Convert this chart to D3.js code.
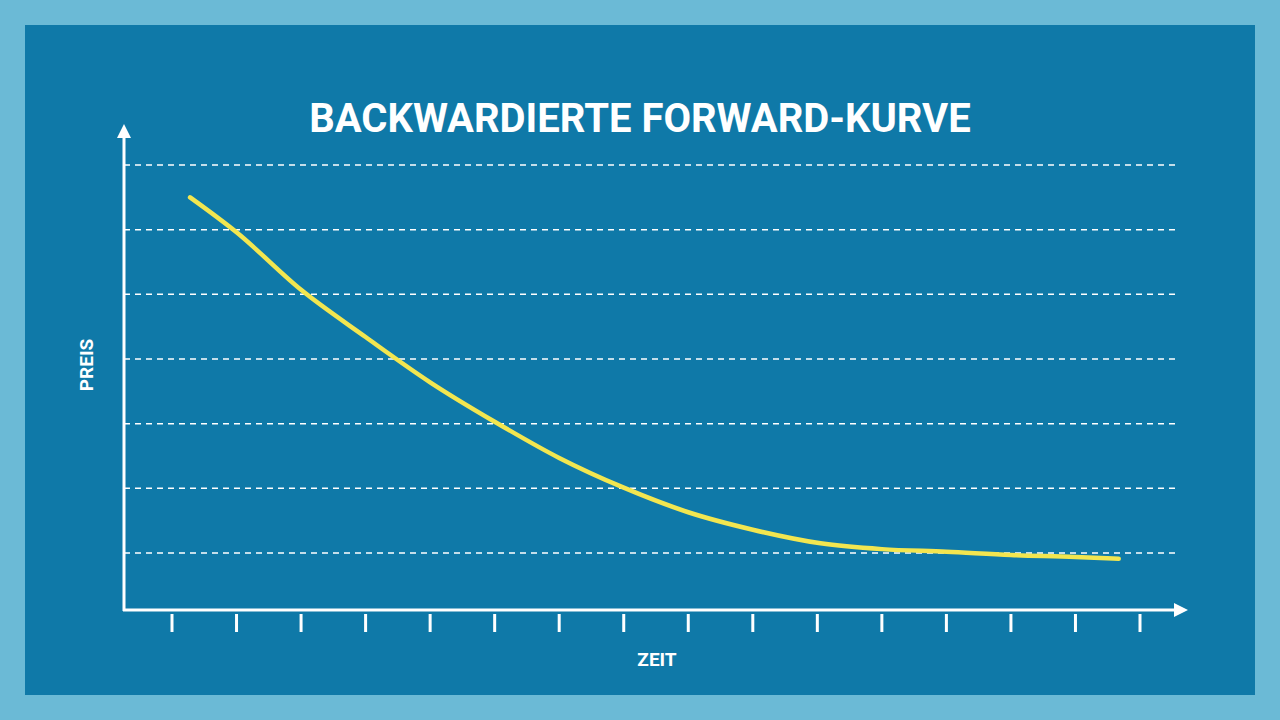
<!DOCTYPE html>
<html><head><meta charset="utf-8">
<script src="https://cdn.jsdelivr.net/npm/d3@7/dist/d3.min.js"></script>
<style>body{margin:0;background:#6bbad6}</style></head>
<body><svg id="c" width="1280" height="720"></svg>
<script>
const title = "BACKWARDIERTE FORWARD-KURVE";
const xLabel = "ZEIT", yLabel = "PREIS";
const tickIndex = d3.range(16);
const gridLevels = [1,2,3,4,5,6,7];
const curveT = [0.28,1,2,3,4,5,6,7,8,9,10.05,11,12,13,14,14.67];
const curveV = [6.50,5.96,5.07,4.34,3.64,3.03,2.47,2.01,1.63,1.36,1.15,1.06,1.02,0.97,0.94,0.91];

const svg = d3.select("#c");
svg.append("rect").attr("width",1280).attr("height",720).attr("fill","#6bbad6");
svg.append("rect").attr("x",25).attr("y",25).attr("width",1230).attr("height",670).attr("fill","#0f79a8");
const x = d3.scaleLinear().domain([0,15]).range([172,1140]);
const y = d3.scaleLinear().domain([1,7]).range([553,165]);
const white="#ffffff";
svg.append("text").attr("x",640).attr("y",132).attr("text-anchor","middle").attr("fill",white)
 .attr("font-family","Roboto, 'Open Sans', sans-serif").attr("font-weight",700).attr("font-size",40).text(title);
svg.selectAll(".g").data(gridLevels).join("line").attr("x1",124).attr("x2",1178)
 .attr("y1",d=>y(d)).attr("y2",d=>y(d)).attr("stroke",white).attr("stroke-width",1.5).attr("stroke-dasharray","6,5");
// axes
svg.append("line").attr("x1",124).attr("x2",124).attr("y1",611).attr("y2",134).attr("stroke",white).attr("stroke-width",3);
svg.append("path").attr("d","M117,138 L124,124 L131,138 Z").attr("fill",white);
svg.append("line").attr("x1",123).attr("x2",1178).attr("y1",610).attr("y2",610).attr("stroke",white).attr("stroke-width",3);
svg.append("path").attr("d","M1174,603 L1188,610 L1174,617 Z").attr("fill",white);
svg.selectAll(".t").data(tickIndex).join("line").attr("x1",d=>x(d)).attr("x2",d=>x(d))
 .attr("y1",614).attr("y2",632).attr("stroke",white).attr("stroke-width",3);
svg.append("text").attr("x",657).attr("y",666).attr("text-anchor","middle").attr("fill",white)
 .attr("font-family","Roboto, sans-serif").attr("font-weight",700).attr("font-size",19).text(xLabel);
svg.append("text").attr("transform","translate(93,365) rotate(-90)").attr("text-anchor","middle").attr("fill",white)
 .attr("font-family","Roboto, sans-serif").attr("font-weight",700).attr("font-size",19).text(yLabel);
const pts = curveT.map((t,i)=>[t,curveV[i]]);
svg.append("path").datum(pts).attr("fill","none").attr("stroke","#f2e650").attr("stroke-width",4.5)
 .attr("stroke-linecap","round")
 .attr("d",d3.line().x(d=>x(d[0])).y(d=>y(d[1])).curve(d3.curveMonotoneX));
</script></body></html>
